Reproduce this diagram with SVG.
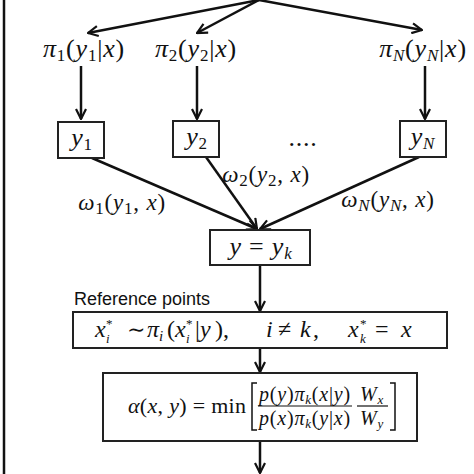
<svg xmlns="http://www.w3.org/2000/svg" width="474" height="474" viewBox="0 0 474 474">
<style>
.m{font-family:"Liberation Serif","DejaVu Serif",serif;font-size:26px;fill:#111;letter-spacing:0.8px}
.i{font-style:italic}
.s{font-size:17px}
.box{fill:#fff;stroke:#222;stroke-width:2}
.ln{stroke:#111;stroke-width:2.5;fill:none}
.lbl{font-family:"Liberation Sans",Arial,sans-serif;font-size:18px;fill:#111}
.sup{font-size:13px}
</style>
<defs>
<marker id="ah" viewBox="0 0 12 12" refX="11" refY="6" markerWidth="12" markerHeight="12" markerUnits="userSpaceOnUse" orient="auto">
<path d="M1,1 L11,6 L1,11" fill="none" stroke="#111" stroke-width="2.2"/>
</marker>
</defs>
<rect width="474" height="474" fill="#fff"/>
<line x1="4" y1="0" x2="4" y2="474" stroke="#111" stroke-width="2.5"/>

<g id="connectors">
<line class="ln" x1="259" y1="0" x2="88" y2="33" marker-end="url(#ah)"/>
<line class="ln" x1="259" y1="0" x2="197" y2="33" marker-end="url(#ah)"/>
<line class="ln" x1="259" y1="0" x2="422" y2="30" marker-end="url(#ah)"/>
<line class="ln" x1="81" y1="66" x2="81" y2="119" marker-end="url(#ah)"/>
<line class="ln" x1="197" y1="66" x2="197" y2="119" marker-end="url(#ah)"/>
<line class="ln" x1="425" y1="66" x2="425" y2="119" marker-end="url(#ah)"/>
<line class="ln" x1="92" y1="158" x2="257" y2="229" marker-end="url(#ah)"/>
<line class="ln" x1="206" y1="157" x2="257" y2="229" marker-end="url(#ah)"/>
<line class="ln" x1="419" y1="157" x2="260" y2="229" marker-end="url(#ah)"/>
<line class="ln" x1="260" y1="265" x2="260" y2="311" marker-end="url(#ah)"/>
<line class="ln" x1="260" y1="348" x2="260" y2="372" marker-end="url(#ah)"/>
<line class="ln" x1="260" y1="441" x2="260" y2="473" marker-end="url(#ah)"/>
</g>

<g id="pi1"><text class="m" x="84" y="57" text-anchor="middle"><tspan class="i">π</tspan><tspan class="s" dy="4">1</tspan><tspan dy="-4">(</tspan><tspan class="i">y</tspan><tspan class="s" dy="4">1</tspan><tspan dy="-4">|</tspan><tspan class="i">x</tspan>)</text></g>
<g id="pi2"><text class="m" x="196" y="57" text-anchor="middle"><tspan class="i">π</tspan><tspan class="s" dy="4">2</tspan><tspan dy="-4">(</tspan><tspan class="i">y</tspan><tspan class="s" dy="4">2</tspan><tspan dy="-4">|</tspan><tspan class="i">x</tspan>)</text></g>
<g id="piN"><text class="m" x="423" y="57" text-anchor="middle"><tspan class="i">π</tspan><tspan class="s i" dy="4">N</tspan><tspan dy="-4">(</tspan><tspan class="i">y</tspan><tspan class="s i" dy="4">N</tspan><tspan dy="-4">|</tspan><tspan class="i">x</tspan>)</text></g>

<g id="y1"><rect class="box" x="58" y="122" width="46" height="36"/><text class="m" x="82" y="146" text-anchor="middle"><tspan class="i">y</tspan><tspan class="s" dy="4">1</tspan></text></g>
<g id="y2"><rect class="box" x="173" y="121" width="46" height="36"/><text class="m" x="197" y="145" text-anchor="middle"><tspan class="i">y</tspan><tspan class="s" dy="4">2</tspan></text></g>
<g id="dots"><text class="m" x="303" y="146" text-anchor="middle">....</text></g>
<g id="yN"><rect class="box" x="400" y="121" width="46" height="36"/><text class="m" x="423" y="145" text-anchor="middle"><tspan class="i">y</tspan><tspan class="s i" dy="4">N</tspan></text></g>

<g id="w1"><text class="m" x="122" y="210" text-anchor="middle" style="font-size:23px"><tspan class="i">ω</tspan><tspan class="s" dy="4">1</tspan><tspan dy="-4">(</tspan><tspan class="i">y</tspan><tspan class="s" dy="4">1</tspan><tspan dy="-4">, </tspan><tspan class="i">x</tspan>)</text></g>
<g id="w2"><text class="m" x="266" y="182" text-anchor="middle" style="font-size:23px"><tspan class="i">ω</tspan><tspan class="s" dy="4">2</tspan><tspan dy="-4">(</tspan><tspan class="i">y</tspan><tspan class="s" dy="4">2</tspan><tspan dy="-4">, </tspan><tspan class="i">x</tspan>)</text></g>
<g id="wN"><text class="m" x="388" y="207" text-anchor="middle" style="font-size:23px"><tspan class="i">ω</tspan><tspan class="s i" dy="4">N</tspan><tspan dy="-4">(</tspan><tspan class="i">y</tspan><tspan class="s i" dy="4">N</tspan><tspan dy="-4">, </tspan><tspan class="i">x</tspan>)</text></g>

<g id="yk"><rect class="box" x="210" y="230" width="100" height="35"/><text class="m" x="261" y="255" text-anchor="middle"><tspan class="i">y</tspan> = <tspan class="i">y</tspan><tspan class="s i" dy="4">k</tspan></text></g>

<g id="ref"><text class="lbl" x="74" y="305">Reference points</text>
<rect class="box" x="73" y="312" width="374" height="36"/>
<g class="m" style="font-size:24px;letter-spacing:0">
<text x="95" y="337" class="i">x</text>
<text x="106" y="328" class="sup">*</text>
<text x="106" y="343" class="i sup">i</text>
<text x="127" y="337" style="font-size:22px">∼</text>
<text x="147" y="337" class="i">π</text>
<text x="159" y="341" class="i" style="font-size:15px">i</text>
<text x="167" y="337">(</text>
<text x="175" y="337" class="i">x</text>
<text x="186" y="328" class="sup">*</text>
<text x="186" y="343" class="i sup">i</text>
<text x="195" y="337">|</text>
<text x="200" y="337" class="i">y</text>
<text x="215" y="337">),</text>
<text x="266" y="337" class="i">i</text>
<text x="278" y="337">≠</text>
<text x="300" y="337" class="i">k</text>
<text x="313" y="337">,</text>
<text x="348" y="337" class="i">x</text>
<text x="360" y="328" class="sup">*</text>
<text x="360" y="343" class="i sup">k</text>
<text x="375" y="337">=</text>
<text x="401" y="337" class="i">x</text>
</g></g>

<g id="alpha"><rect class="box" x="103" y="373" width="314" height="68"/>
<text class="m" x="128" y="413" style="font-size:22px;letter-spacing:0" textLength="118" lengthAdjust="spacing"><tspan class="i">α</tspan>(<tspan class="i">x</tspan>, <tspan class="i">y</tspan>) = min</text>
<path d="M257,383 H252 V430 H257 M390,383 H395 V430 H390" fill="none" stroke="#111" stroke-width="1.5"/>
<line x1="258" y1="406" x2="352" y2="406" stroke="#111" stroke-width="1.2"/>
<line x1="357" y1="406" x2="388" y2="406" stroke="#111" stroke-width="1.2"/>
<text class="m" x="305" y="401" text-anchor="middle" style="font-size:20px"><tspan class="i">p</tspan>(<tspan class="i">y</tspan>)<tspan class="i">π</tspan><tspan class="i" style="font-size:13px" dy="3">k</tspan><tspan dy="-3">(</tspan><tspan class="i">x</tspan>|<tspan class="i">y</tspan>)</text>
<text class="m" x="305" y="425" text-anchor="middle" style="font-size:20px"><tspan class="i">p</tspan>(<tspan class="i">x</tspan>)<tspan class="i">π</tspan><tspan class="i" style="font-size:13px" dy="3">k</tspan><tspan dy="-3">(</tspan><tspan class="i">y</tspan>|<tspan class="i">x</tspan>)</text>
<text class="m" x="372" y="401" text-anchor="middle" style="font-size:20px"><tspan class="i">W</tspan><tspan class="i" style="font-size:13px" dy="3">x</tspan></text>
<text class="m" x="372" y="425" text-anchor="middle" style="font-size:20px"><tspan class="i">W</tspan><tspan class="i" style="font-size:13px" dy="3">y</tspan></text>
</g>
</svg>
